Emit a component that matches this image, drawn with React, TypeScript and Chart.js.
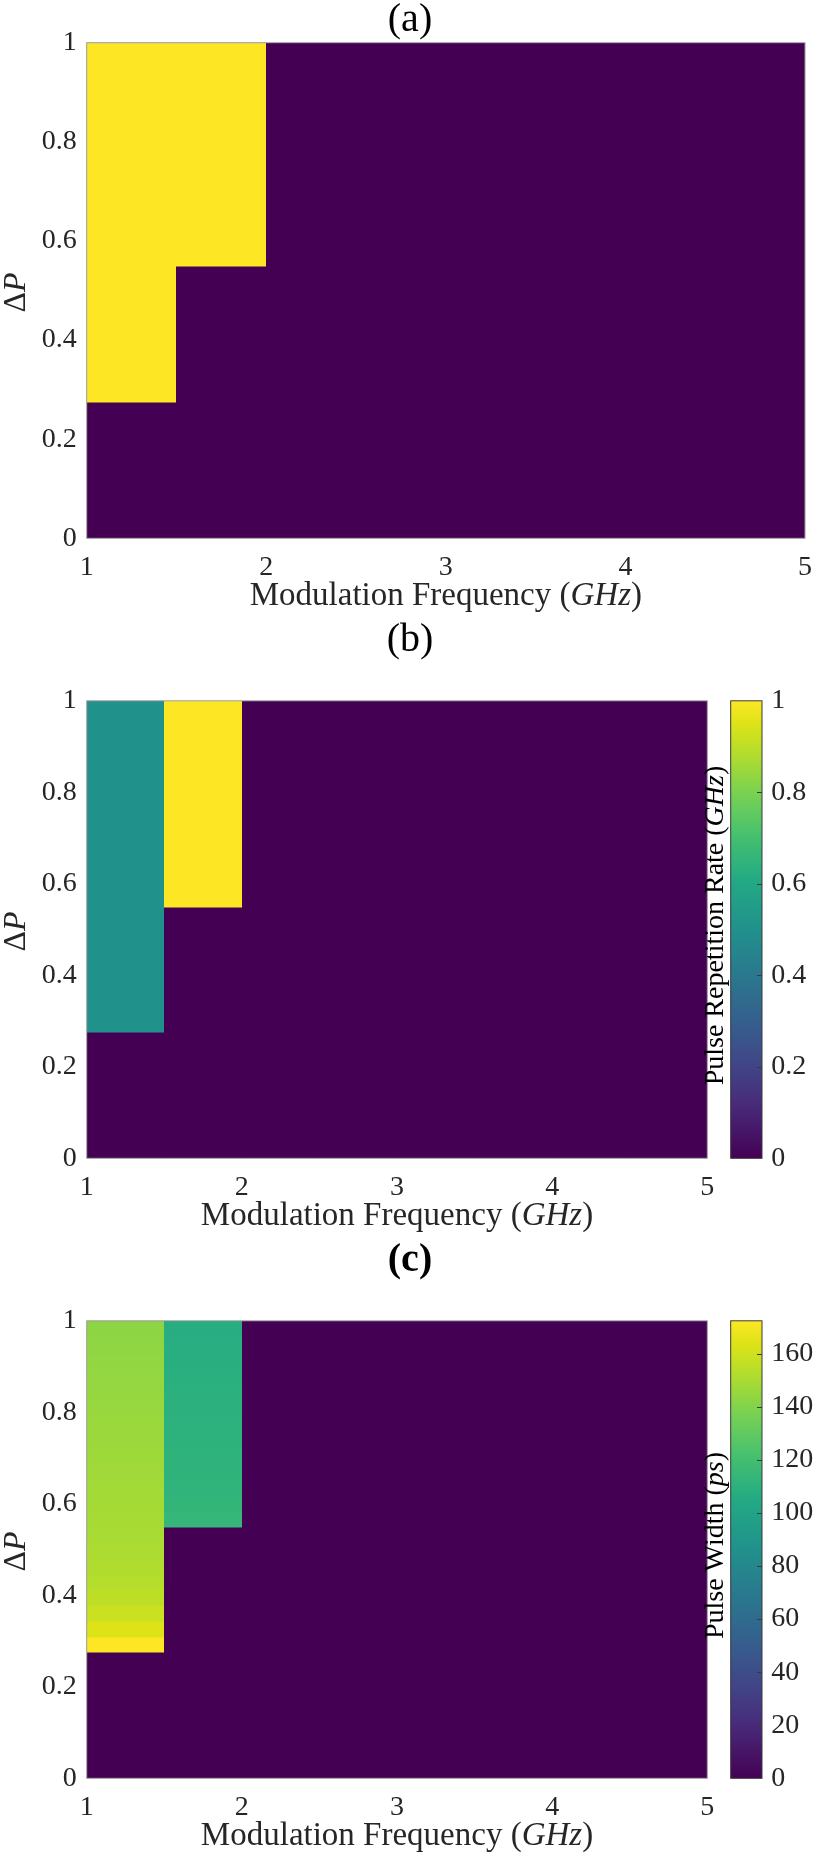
import React, { useEffect, useRef } from "react";
import { Chart, registerables } from "chart.js";

Chart.register(...registerables);

// ---------------- data ----------------
const freqEdges = [1, 1.5, 2, 2.5, 3, 3.5, 4, 4.5, 5]; // GHz, cell edges
const freqTicks = [1, 2, 3, 4, 5];
const dpEdges = [
  0, 0.275, 0.309, 0.344, 0.378, 0.413, 0.447, 0.481, 0.516, 0.55, 0.584, 0.619,
  0.653, 0.688, 0.722, 0.756, 0.791, 0.825, 0.859, 0.894, 0.928, 0.963, 0.997, 1,
];
const dpTicks = [0, 0.2, 0.4, 0.6, 0.8, 1];

const darkColumn = [0, 0, 0, 0, 0, 0, 0, 0, 0, 0, 0, 0, 0, 0, 0, 0, 0, 0, 0, 0, 0, 0, 0];

// (a) regime map, columns 1–1.5 GHz and 1.5–2 GHz (rows bottom -> top)
const regimeCol1 = [0, 1, 1, 1, 1, 1, 1, 1, 1, 1, 1, 1, 1, 1, 1, 1, 1, 1, 1, 1, 1, 1, 1];
const regimeCol2 = [0, 0, 0, 0, 0, 0, 0, 0, 0, 1, 1, 1, 1, 1, 1, 1, 1, 1, 1, 1, 1, 1, 1];

// (b) pulse repetition rate (GHz)
const rateCol1 = [0, 0.5, 0.5, 0.5, 0.5, 0.5, 0.5, 0.5, 0.5, 0.5, 0.5, 0.5, 0.5, 0.5, 0.5, 0.5, 0.5, 0.5, 0.5, 0.5, 0.5, 0.5, 0.5];
const rateCol2 = [0, 0, 0, 0, 0, 0, 0, 0, 0, 1, 1, 1, 1, 1, 1, 1, 1, 1, 1, 1, 1, 1, 1];
const rateTicks = [0, 0.2, 0.4, 0.6, 0.8, 1];
const rateMax = 1;

// (c) pulse width (ps)
const widthCol1 = [
  0, 172.4, 164, 158.5, 155, 153, 151.5, 150.5, 149.5, 149, 148.5, 148, 147.5, 147,
  146.5, 146, 145.5, 145, 144.5, 144, 143.5, 143, 142.5,
];
const widthCol2 = [
  0, 0, 0, 0, 0, 0, 0, 0, 0, 114, 113, 112, 111.5, 111, 110.5, 110, 109.5, 109, 108.5,
  108, 107.5, 107, 106.5,
];
const widthTicks = [0, 20, 40, 60, 80, 100, 120, 140, 160];
const widthMax = 172.4;

const regimeGrid = [regimeCol1, regimeCol2, darkColumn, darkColumn, darkColumn, darkColumn, darkColumn, darkColumn];
const rateGrid = [rateCol1, rateCol2, darkColumn, darkColumn, darkColumn, darkColumn, darkColumn, darkColumn];
const widthGrid = [widthCol1, widthCol2, darkColumn, darkColumn, darkColumn, darkColumn, darkColumn, darkColumn];

// ---------------- styling ----------------
const FONT = "'Liberation Serif', 'Times New Roman', serif";
const VIRIDIS: [number, string][] = [
  [0, "#440154"], [0.1, "#482475"], [0.125, "#472d7b"], [0.2, "#414487"], [0.25, "#3b528b"],
  [0.3, "#355f8d"], [0.375, "#2c728e"], [0.4, "#2a788e"], [0.5, "#21918c"], [0.6, "#22a884"],
  [0.625, "#28ae80"], [0.7, "#44bf70"], [0.75, "#5ec962"], [0.8, "#7ad151"], [0.875, "#addc30"],
  [0.9, "#bddf26"], [0.95, "#dde318"], [1, "#fde725"],
];

function hexRgb(h: string) {
  return [parseInt(h.slice(1, 3), 16), parseInt(h.slice(3, 5), 16), parseInt(h.slice(5, 7), 16)];
}

function viridis(t: number) {
  const v = Math.max(0, Math.min(1, t));
  for (let k = 1; k < VIRIDIS.length; k++) {
    const [t1, c1] = VIRIDIS[k];
    const [t0, c0] = VIRIDIS[k - 1];
    if (v <= t1) {
      const f = (v - t0) / (t1 - t0);
      const a = hexRgb(c0);
      const b = hexRgb(c1);
      const r = a.map((x, i) => Math.round(x + (b[i] - x) * f));
      return `rgb(${r[0]},${r[1]},${r[2]})`;
    }
  }
  return VIRIDIS[VIRIDIS.length - 1][1];
}

type Run = { t: string; i?: boolean };

function drawRuns(
  ctx: CanvasRenderingContext2D,
  runs: Run[],
  size: number,
  x: number,
  y: number,
  rot: number,
  color: string,
  weight = "normal"
) {
  ctx.save();
  ctx.translate(x, y);
  ctx.rotate(rot);
  ctx.fillStyle = color;
  ctx.textBaseline = "alphabetic";
  ctx.textAlign = "left";
  const fonts = runs.map((r) => `${r.i ? "italic" : "normal"} ${weight} ${size}px ${FONT}`);
  let total = 0;
  const widths = runs.map((r, k) => {
    ctx.font = fonts[k];
    const w = ctx.measureText(r.t).width;
    total += w;
    return w;
  });
  let cx = -total / 2;
  runs.forEach((r, k) => {
    ctx.font = fonts[k];
    ctx.fillText(r.t, cx, 0);
    cx += widths[k];
  });
  ctx.restore();
}

type PanelCfg = {
  title: string;
  bold: boolean;
  grid: number[][];
  cmax: number;
  top: number;
  colorbar: null | { ticks: number[]; label: Run[] };
};

const panels: PanelCfg[] = [
  { title: "(a)", bold: false, grid: regimeGrid, cmax: 1, top: 42.7, colorbar: null },
  {
    title: "(b)",
    bold: false,
    grid: rateGrid,
    cmax: rateMax,
    top: 42.7,
    colorbar: { ticks: rateTicks, label: [{ t: "Pulse Repetition Rate (" }, { t: "GHz", i: true }, { t: ")" }] },
  },
  {
    title: "(c)",
    bold: true,
    grid: widthGrid,
    cmax: widthMax,
    top: 43.5,
    colorbar: { ticks: widthTicks, label: [{ t: "Pulse Width (" }, { t: "ps", i: true }, { t: ")" }] },
  },
];

function makePlugin(cfg: PanelCfg) {
  return {
    id: "heatmap",
    beforeDatasetsDraw(chart: any) {
      const { ctx, chartArea: a, scales } = chart;
      const xs = scales.x;
      const ys = scales.y;
      ctx.save();
      ctx.beginPath();
      ctx.rect(a.left, a.top, a.right - a.left, a.bottom - a.top);
      ctx.clip();
      cfg.grid.forEach((col, c) => {
        const x0 = Math.round(xs.getPixelForValue(freqEdges[c]));
        const x1 = Math.round(xs.getPixelForValue(freqEdges[c + 1]));
        col.forEach((val, r) => {
          const y0 = Math.round(ys.getPixelForValue(dpEdges[r]));
          const y1 = Math.round(ys.getPixelForValue(dpEdges[r + 1]));
          ctx.fillStyle = viridis(val / cfg.cmax);
          ctx.fillRect(x0, y1, x1 - x0 + 0.5, y0 - y1 + 0.5);
        });
      });
      ctx.restore();
      // axes box
      ctx.save();
      ctx.strokeStyle = "#9a9a9a";
      ctx.lineWidth = 1;
      ctx.strokeRect(a.left, a.top, a.right - a.left, a.bottom - a.top);
      ctx.restore();
    },
    afterDraw(chart: any) {
      const { ctx, chartArea: a, scales } = chart;
      // title
      drawRuns(ctx, [{ t: cfg.title }], 40, 410, 31, 0, "#000", cfg.bold ? "bold" : "normal");
      // x label
      drawRuns(
        ctx,
        [{ t: "Modulation Frequency (" }, { t: "GHz", i: true }, { t: ")" }],
        33,
        (a.left + a.right) / 2,
        a.bottom + 67,
        0,
        "#262626"
      );
      // y label
      drawRuns(ctx, [{ t: "Δ" }, { t: "P", i: true }], 32, 25, (a.top + a.bottom) / 2 + 2, -Math.PI / 2, "#262626");
      // colorbar
      if (cfg.colorbar) {
        const cb = scales.cb;
        const bx = cb.left + 23.4;
        const bw = 31.3;
        const yTop = cb.getPixelForValue(cfg.cmax);
        const yBot = cb.getPixelForValue(0);
        const g = ctx.createLinearGradient(0, yBot, 0, yTop);
        VIRIDIS.forEach(([t, c]) => g.addColorStop(t, c));
        ctx.save();
        ctx.fillStyle = g;
        ctx.fillRect(bx, yTop, bw, yBot - yTop);
        ctx.strokeStyle = "#3a3a3a";
        ctx.lineWidth = 1;
        ctx.strokeRect(bx, yTop, bw, yBot - yTop);
        ctx.beginPath();
        cfg.colorbar.ticks.forEach((v) => {
          if (v <= 0 || v >= cfg.cmax) return;
          const y = Math.round(cb.getPixelForValue(v)) + 0.5;
          ctx.moveTo(bx + bw - 5, y);
          ctx.lineTo(bx + bw, y);
        });
        ctx.stroke();
        ctx.restore();
        drawRuns(ctx, cfg.colorbar.label, 28, cb.left + 15.7, (a.top + a.bottom) / 2 - 4, -Math.PI / 2, "#000");
      }
    },
  };
}

function buildConfig(cfg: PanelCfg): any {
  const tickFont = { family: FONT, size: 28 };
  const scales: any = {
    x: {
      type: "linear",
      min: freqEdges[0],
      max: freqEdges[freqEdges.length - 1],
      afterBuildTicks: (s: any) => {
        s.ticks = freqTicks.map((v) => ({ value: v }));
      },
      afterFit: (s: any) => {
        s.height = 81.7;
      },
      grid: { display: false, drawTicks: false },
      border: { display: false },
      ticks: { autoSkip: false, maxRotation: 0, padding: 13, color: "#262626", font: tickFont, callback: (v: any) => String(v) },
    },
    y: {
      type: "linear",
      min: 0,
      max: 1,
      afterBuildTicks: (s: any) => {
        s.ticks = dpTicks.map((v) => ({ value: v }));
      },
      afterFit: (s: any) => {
        s.width = 86.7;
      },
      grid: { display: false, drawTicks: false },
      border: { display: false },
      ticks: { autoSkip: false, padding: 10, color: "#262626", font: tickFont, callback: (v: any) => String(v) },
    },
  };
  if (cfg.colorbar) {
    const cbTicks = cfg.colorbar.ticks;
    scales.cb = {
      type: "linear",
      axis: "y",
      position: "right",
      min: 0,
      max: cfg.cmax,
      afterBuildTicks: (s: any) => {
        s.ticks = cbTicks.map((v) => ({ value: v }));
      },
      afterFit: (s: any) => {
        s.width = 117.7;
      },
      grid: { display: false, drawTicks: false },
      border: { display: false },
      ticks: { autoSkip: false, padding: 64, color: "#262626", font: tickFont, callback: (v: any) => String(v) },
    };
  }
  return {
    type: "scatter",
    data: { datasets: [] },
    options: {
      animation: false,
      responsive: false,
      events: [],
      layout: { padding: { top: cfg.top, right: cfg.colorbar ? 0 : 17, bottom: 0, left: 0 } },
      plugins: { legend: { display: false }, tooltip: { enabled: false }, title: { display: false } },
      scales,
    },
    plugins: [makePlugin(cfg)],
  };
}

function Panel({ cfg }: { cfg: PanelCfg }) {
  const ref = useRef<HTMLCanvasElement>(null);
  useEffect(() => {
    const chart = new Chart(ref.current as HTMLCanvasElement, buildConfig(cfg));
    return () => chart.destroy();
  }, [cfg]);
  return <canvas ref={ref} width={825} height={620} style={{ display: "block", width: 825, height: 620 }} />;
}

export default function App() {
  useEffect(() => {
    document.body.style.margin = "0";
    document.body.style.background = "#ffffff";
  }, []);
  return (
    <div style={{ width: 825, height: 1860, background: "#ffffff" }}>
      {panels.map((p) => (
        <Panel key={p.title} cfg={p} />
      ))}
    </div>
  );
}
